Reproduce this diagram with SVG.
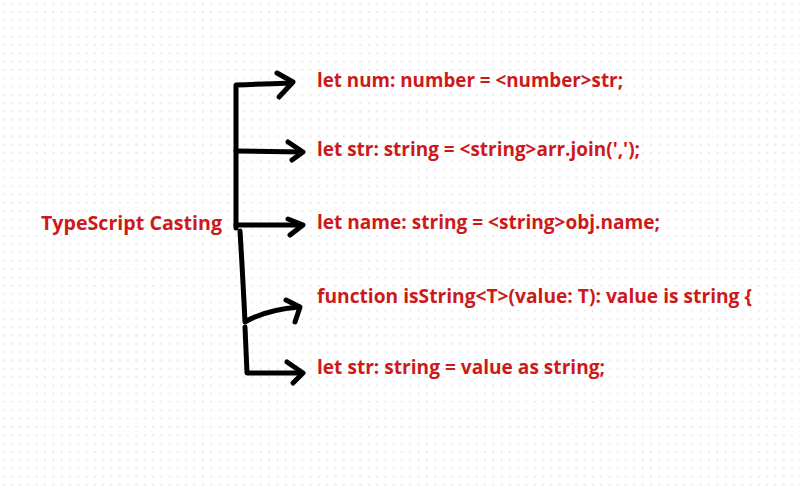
<svg xmlns="http://www.w3.org/2000/svg" width="800" height="491" viewBox="0 0 800 491">
<defs>
<pattern id="dots" x="0" y="0" width="8.3" height="8.3" patternUnits="userSpaceOnUse">
<circle cx="3.5" cy="3.5" r="0.9" fill="#e2e2e2"/>
</pattern>
</defs>
<style>
.t{font-family:"Open Sans","Liberation Sans",sans-serif;font-weight:700;font-size:19px;fill:#cc1a1a}
.ln{fill:none;stroke:#000;stroke-width:5;stroke-linecap:round;stroke-linejoin:round}
</style>
<rect width="800" height="491" fill="#ffffff"/>
<rect width="800" height="491" fill="url(#dots)"/>
<g id="connectors">
<path class="ln" d="M236,228 L236,85 Q260,84 292,83"/>
<path class="ln" d="M277,73 L293,82 L279,97"/>
<path class="ln" d="M236,151 L302,152"/>
<path class="ln" d="M288,142 L303,152 L292,160"/>
<path class="ln" d="M236,225 L302,225"/>
<path class="ln" d="M288,219 L303,225 L290,235"/>
<path class="ln" d="M240,231 Q243,280 245,322 Q265,310 299,307"/>
<path class="ln" d="M286,300 L300,307 L295,322"/>
<path class="ln" d="M245,327 L247,373 L302,373"/>
<path class="ln" d="M287,362 L303,373 L293,383"/>
</g>
<g id="root"><text class="t" x="41" y="230" textLength="181" lengthAdjust="spacingAndGlyphs">TypeScript Casting</text></g>
<g id="n1"><text class="t" x="317" y="87" textLength="306" lengthAdjust="spacingAndGlyphs">let num: number = &lt;number&gt;str;</text></g>
<g id="n2"><text class="t" x="317" y="156" textLength="323" lengthAdjust="spacingAndGlyphs">let str: string = &lt;string&gt;arr.join(',');</text></g>
<g id="n3"><text class="t" x="317" y="229" textLength="343" lengthAdjust="spacingAndGlyphs">let name: string = &lt;string&gt;obj.name;</text></g>
<g id="n4"><text class="t" x="317" y="303" textLength="435" lengthAdjust="spacingAndGlyphs">function isString&lt;T&gt;(value: T): value is string {</text></g>
<g id="n5"><text class="t" x="317" y="374" textLength="288" lengthAdjust="spacingAndGlyphs">let str: string = value as string;</text></g>
</svg>
